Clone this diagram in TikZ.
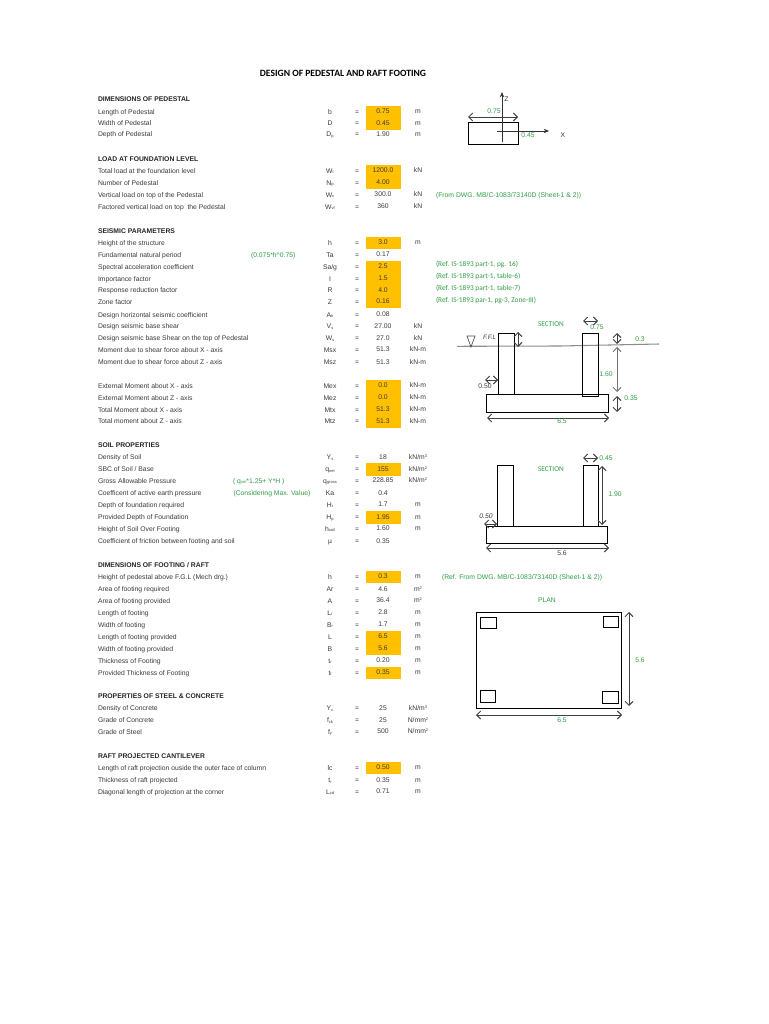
\documentclass[tikz,border=0pt]{standalone}
\usepackage{fontspec}
\setmainfont{Liberation Sans}
\newfontfamily\calfont{Carlito}
\usetikzlibrary{arrows.meta}
\definecolor{hl}{HTML}{FFC000}
\definecolor{gr}{HTML}{2F9E44}
\definecolor{tx}{HTML}{3A3A3A}
\newcounter{rc}
\newcommand{\sbs}[1]{\raisebox{-0.5pt}{\fontsize{3}{3}\selectfont #1}}
\newcommand{\sps}[1]{\raisebox{1.5pt}{\fontsize{3}{3}\selectfont #1}}
\tikzset{
  txt/.style={inner sep=0pt,outer sep=0pt,font=\fontsize{5.1}{6}\selectfont,text=tx},
  lab/.style={txt,anchor=base west},
  mid/.style={txt,anchor=base},
  head/.style={lab,font=\fontsize{5.1}{6}\selectfont\bfseries,text=black!85},
  note/.style={lab,text=gr},
  cnote/.style={mid,text=gr},
  clnote/.style={lab,font=\calfont\fontsize{5.5}{6}\selectfont,text=gr},
  cmid/.style={mid,font=\calfont\fontsize{5.5}{6}\selectfont,text=gr},
  solid box/.style={draw=black,line width=0.75pt},
  dimline/.style={draw=black!75,line width=0.45pt,{Straight Barb[length=3pt,width=6pt,line width=0.7pt]}-{Straight Barb[length=3pt,width=6pt,line width=0.7pt]}},
  axisline/.style={draw=black!80,line width=0.5pt,-{Stealth[length=4pt,width=3.2pt]}},
}
\newcommand{\rw}[5]{%
  \stepcounter{rc}%
  \node[lab] (l\arabic{rc}) at (98,#1+2) {#2};
  \node[mid] (s\arabic{rc}) at (330,#1+2) {#3};
  \node[mid] (e\arabic{rc}) at (357,#1+2) {=};
  \node[mid] (v\arabic{rc}) at (383,#1+1.5) {#4};
  \node[mid] (u\arabic{rc}) at (418,#1+1.5) {#5};
}
\newcommand{\rwh}[5]{%
  \fill[hl] (365.5,#1-6.1) rectangle (400.5,#1+6.1);
  \rw{#1}{#2}{#3}{#4}{#5}%
}
\newcommand{\hd}[2]{%
  \stepcounter{rc}%
  \node[head] (h\arabic{rc}) at (98,#1+2) {#2};
}
\begin{document}
\begin{tikzpicture}[x=0.75pt,y=-0.75pt]
\useasboundingbox (0,0) rectangle (768,1024);
\fill[white] (0,0) rectangle (768,1024);
\node[mid,font=\calfont\fontsize{7.2}{8}\selectfont\bfseries,text=black] (title) at (343,77) {DESIGN OF PEDESTAL AND RAFT FOOTING};

\hd{100}{DIMENSIONS OF PEDESTAL}
\rwh{112}{Length of Pedestal}{b}{0.75}{m}
\rwh{123.5}{Width of Pedestal}{D}{0.45}{m}
\rw{135}{Depth of Pedestal}{D\sbs{p}}{1.90}{m}
\hd{159.5}{LOAD AT FOUNDATION LEVEL}
\rwh{171}{Total load at the foundation level}{W\sbs{t}}{1200.0}{kN}
\rwh{183}{Number of Pedestal}{N\sbs{p}}{4.00}{}
\rw{195}{Vertical load on top of the Pedestal}{W\sbs{v}}{300.0}{kN}
\rw{207}{Factored vertical load on top\ \ the Pedestal}{W\sbs{vf}}{360}{kN}

\hd{231}{SEISMIC PARAMETERS}
\rwh{243}{Height of the structure}{h}{3.0}{m}
\rw{255}{Fundamental natural period}{Ta}{0.17}{}
\rwh{267}{Spectral acceleration coefficient}{Sa/g}{2.5}{}
\rwh{279}{Importance factor}{I}{1.5}{}
\rwh{290.5}{Response reduction factor}{R}{4.0}{}
\rwh{302}{Zone factor}{Z}{0.16}{}
\rw{315}{Design horizontal seismic coefficient}{A\sbs{h}}{0.08}{}
\rw{326.5}{Design seismic base shear}{V\sbs{s}}{27.00}{kN}
\rw{338.5}{Design seismic base Shear on the top of Pedestal}{W\sbs{s}}{27.0}{kN}
\rw{350}{Moment due to shear force about X - axis}{Msx}{51.3}{kN-m}
\rw{362.5}{Moment due to shear force about Z - axis}{Msz}{51.3}{kN-m}
\rwh{386}{External Moment about X - axis}{Mex}{0.0}{kN-m}
\rwh{398}{External Moment about Z - axis}{Mez}{0.0}{kN-m}
\rwh{410}{Total Moment about X - axis}{Mtx}{51.3}{kN-m}
\rwh{421.5}{Total moment about Z - axis}{Mtz}{51.3}{kN-m}
\node[note] (nt) at (251,257) {(0.075*h\^{}0.75)};

\hd{445}{SOIL PROPERTIES}
\rw{457.5}{Density of Soil}{Y\sbs{s}}{18}{kN/m\sps{3}}
\rwh{469.5}{SBC of Soil / Base}{q\sbs{net}}{155}{kN/m\sps{2}}
\rw{481}{Gross Allowable Pressure}{q\sbs{gross}}{228.85}{kN/m\sps{2}}
\rw{493.5}{Coefficent of active earth pressure}{Ka}{0.4}{}
\rw{505}{Depth of foundation required}{H\sbs{r}}{1.7}{m}
\rwh{517.5}{Provided Depth of Foundation}{H\sbs{p}}{1.95}{m}
\rw{529}{Height of Soil Over Footing}{h\sbs{soil}}{1.60}{m}
\rw{541.5}{Coefficient of friction between footing and soil}{\textmu}{0.35}{}
\node[note] (ng) at (233,483) {( q\sbs{net}*1.25+ Y*H )};
\node[note] (nk) at (233.5,495.5) {(Considering Max. Value)};

\hd{565}{DIMENSIONS OF FOOTING / RAFT}
\rwh{577}{Height of pedestal above F.G.L (Mech drg.)}{h}{0.3}{m}
\rw{589.5}{Area of footing required}{Ar}{4.6}{m\sps{2}}
\rw{601}{Area of footing provided}{A}{36.4}{m\sps{2}}
\rw{613}{Length of footing}{L\sbs{r}}{2.8}{m}
\rw{625}{Width of footing}{B\sbs{r}}{1.7}{m}
\rwh{637}{Length of footing provided}{L}{6.5}{m}
\rwh{649}{Width of footing provided}{B}{5.6}{m}
\rw{661}{Thickness of Footing}{t\sbs{r}}{0.20}{m}
\rwh{673}{Provided Thickness of Footing}{t\sbs{f}}{0.35}{m}

\hd{696.5}{PROPERTIES OF STEEL \& CONCRETE}
\rw{708.5}{Density of Concrete}{Y\sbs{c}}{25}{kN/m\sps{3}}
\rw{720.5}{Grade of Concrete}{f\sbs{ck}}{25}{N/mm\sps{2}}
\rw{732}{Grade of Steel}{f\sbs{y}}{500}{N/mm\sps{2}}
\hd{756}{RAFT PROJECTED CANTILEVER}
\rwh{768}{Length of raft projection ouside the outer face of column}{lc}{0.50}{m}
\rw{780.5}{Thickness of raft projected}{t\sbs{r}}{0.35}{m}
\rw{792}{Diagonal length of projection at the corner}{L\sbs{cd}}{0.71}{m}

% side notes
\node[note] (n1) at (436,197) {(From DWG. MB/C-1083/73140D (Sheet-1 \& 2))};
\node[clnote] (r1) at (436,266) {(Ref. IS-1893 part-1, pg. 16)};
\node[clnote] (r2) at (436,278) {(Ref. IS-1893 part-1, table-6)};
\node[clnote] (r3) at (436,290) {(Ref. IS-1893 part-1, table-7)};
\node[clnote] (r4) at (436,302) {(Ref. IS-1893 par-1, pg-3, Zone-III)};
\node[note] (n2) at (442,579) {(Ref. From DWG. MB/C-1083/73140D (Sheet-1 \& 2))};

% pedestal cross-section
\draw[solid box] (468,122) rectangle (518,144);
\draw[axisline] (502,142) -- (502,92);
\draw[axisline] (497,131) -- (549,131);
\draw[dimline] (468,117) -- (518,117);
\node[cnote] (d75) at (494,113.5) {0.75};
\node[cnote] (d45) at (528,137.5) {0.45};
\node[mid] (xl) at (563,137.5) {X};
\node[mid] (zl) at (506.5,102) {Z};

% section 1
\node[cmid] (sec1) at (551,326) {SECTION};
\draw[black!45,line width=0.8pt] (457,346.3) -- (560,346) -- (659,344);
\draw[solid box] (498,333) rectangle (514,394);
\draw[solid box] (582,333) rectangle (598,396);
\draw[solid box] (486,394) rectangle (608,412);
\draw[black!70,line width=0.5pt] (467,336) -- (475,336) -- (471,347) -- cycle;
\node[lab,font=\fontsize{4.75}{6}\selectfont\itshape] (ffl) at (483,339) {F.F.L};
\draw[dimline] (518,332) -- (518,347);
\draw[dimline] (583,321) -- (598,321);
\node[cnote] (a75) at (597,329.5) {0.75};
\draw[dimline] (617,333) -- (617,344);
\node[cnote] (a3) at (640,341) {0.3};
\draw[dimline,draw=black!55] (617,347) -- (617,392);
\node[cnote] (a160) at (606,376) {1.60};
\draw[dimline] (617,396) -- (617,412);
\node[cnote] (a35) at (631,400) {0.35};
\draw[dimline] (485,380) -- (498,380);
\node[mid] (a50) at (485,388.5) {0.50};
\draw[dimline] (487,418) -- (609,418);
\node[cnote] (a65) at (562,423) {6.5};

% section 2
\node[cmid] (sec2) at (551,471) {SECTION};
\draw[solid box] (497,465) rectangle (513,526);
\draw[solid box] (583,465) rectangle (598,526);
\draw[solid box] (486,526) rectangle (607,543);
\draw[dimline] (583,458) -- (598,458);
\node[cnote] (b45) at (606,460) {0.45};
\draw[dimline] (602,466) -- (602,525);
\node[cnote] (b190) at (615,496) {1.90};
\draw[dimline] (484,524) -- (497,524);
\node[mid,font=\fontsize{5.1}{6}\selectfont\itshape] (b50) at (486,518) {0.50};
\draw[dimline] (486,548) -- (609,548);
\node[mid] (b56) at (562,555) {5.6};

% plan
\node[cnote] (plan) at (547,602) {PLAN};
\draw[solid box] (476,612) rectangle (621,708);
\draw[solid box] (480,617) rectangle (496,628);
\draw[solid box] (603,616) rectangle (618,627);
\draw[solid box] (480,690) rectangle (495,702);
\draw[solid box] (602,691) rectangle (618,703);
\draw[dimline] (629,612) -- (629,706);
\node[cnote] (p56) at (640,662) {5.6};
\draw[dimline] (476,715) -- (622,715);
\node[cnote] (p65) at (562,722) {6.5};
\end{tikzpicture}
\end{document}
